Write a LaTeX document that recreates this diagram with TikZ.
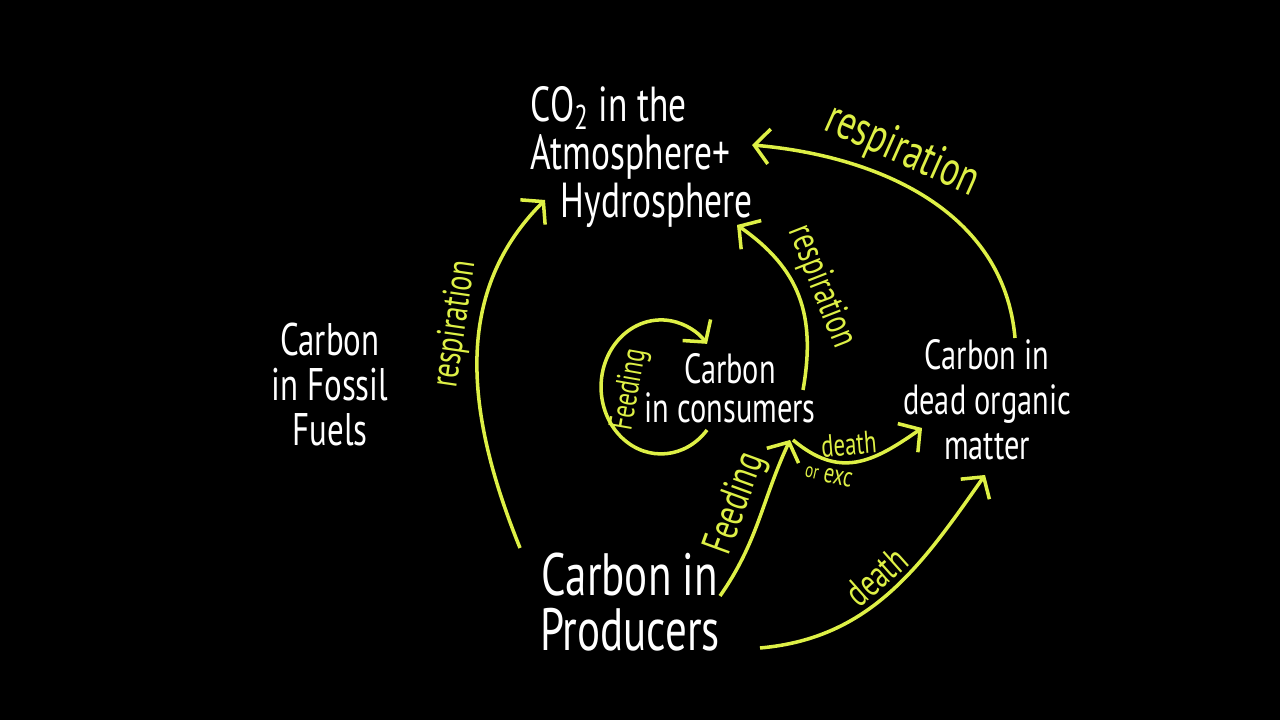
\documentclass[tikz,border=0pt]{standalone}
\usepackage{fontspec}
\setmainfont{PT Sans}[FakeStretch=0.72]
\usetikzlibrary{arrows.meta}
\definecolor{chalkyellow}{RGB}{222,240,70}

\begin{document}
\begin{tikzpicture}[
  chalk/.style={text=white, align=center, inner sep=0pt},
  scrawl/.style={text=chalkyellow, inner sep=1.5pt},
  flow/.style={draw=chalkyellow, line width=1pt, -{Straight Barb[length=1.5mm,width=3.5mm]}}
]
\fill[black] (0,0) rectangle (12.8,7.2);
\useasboundingbox (0,0) rectangle (12.8,7.2);

% reservoirs
{
\node[chalk, align=left, anchor=west, font=\fontsize{14}{13.6}\selectfont] (co2) at (5.3,5.63)
{CO\textsubscript{2} in the\\Atmosphere+\\\hspace*{0.3cm}Hydrosphere};
\node[chalk, font=\fontsize{13}{12.8}\selectfont] (fossil) at (3.3,3.35)
{Carbon\\in Fossil\\Fuels};
\node[chalk, font=\fontsize{12}{11}\selectfont] (cons) at (7.3,3.32)
{Carbon\\in consumers};
\node[chalk, font=\fontsize{12}{12.8}\selectfont] (dead) at (9.87,3.2)
{Carbon in\\dead organic\\matter};
\node[chalk, font=\fontsize{17}{15.6}\selectfont] (prod) at (6.3,1.18)
{Carbon in\\Producers};
}

% respiration
{
\draw[flow] ([shift={(-1.1,0.54)}]prod.center) to[out=112, in=225]
  node[scrawl, sloped, above, pos=0.6, font=\fontsize{11}{11}\selectfont] (resp1) {respiration}
  ([shift={(0.15,-0.43)}]co2.west);
\draw[flow] ([shift={(0.28,0.62)}]dead.center) to[out=95, in=-5]
  node[scrawl, sloped, above, pos=0.62, font=\fontsize{14}{14}\selectfont] (resp2) {respiration}
  ([shift={(2.22,0.12)}]co2.west);
\draw[flow] ([shift={(0.73,-0.02)}]cons.center) to[out=80, in=-35, looseness=1.1]
  node[scrawl, sloped, above, pos=0.5, font=\fontsize{11}{11}\selectfont] (resp3) {respiration}
  ([shift={(2.07,-0.68)}]co2.west);
}

% feeding
{
\draw[flow] ([shift={(-0.23,-0.42)}]cons.center)
  arc[start angle=-40, end angle=-320, x radius=0.6, y radius=0.67];
\node[scrawl, rotate=80, font=\fontsize{9.5}{10}\selectfont] (feed1) at (6.3,3.3) {Feeding};

\draw[flow] ([shift={(0.9,0.06)}]prod.center) to[out=55, in=-115]
  node[scrawl, sloped, above, pos=0.55, font=\fontsize{12}{12}\selectfont] (feed2) {Feeding}
  ([shift={(0.6,-0.52)}]cons.center);
}

% death
{
\draw[flow] ([shift={(0.63,-0.52)}]cons.center) to[out=-40, in=215, looseness=1.2]
  node[scrawl, sloped, above, pos=0.45, font=\fontsize{9}{9}\selectfont] (death1) {death}
  node[scrawl, sloped, below, pos=0.3, font=\fontsize{8}{8}\selectfont] (excr) {{\fontsize{6}{6}\selectfont or} exc}
  ([shift={(-0.65,-0.28)}]dead.center);
\draw[flow] ([shift={(1.3,-0.46)}]prod.center) to[out=5, in=235]
  node[scrawl, sloped, above, pos=0.5, font=\fontsize{11}{11}\selectfont] (death2) {death}
  ([shift={(-0.02,-0.75)}]dead.center);
}
\end{tikzpicture}
\end{document}
